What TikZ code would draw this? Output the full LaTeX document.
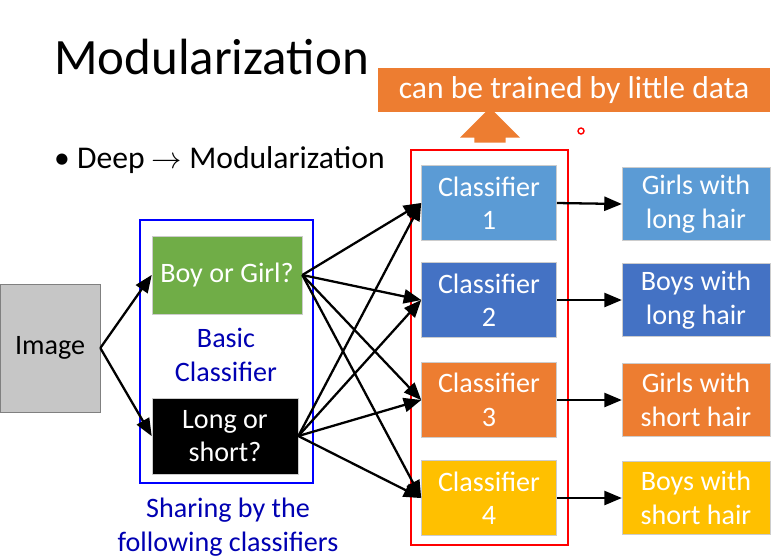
\documentclass[tikz,border=0pt]{standalone}
\usepackage{fontspec}
\setmainfont{Carlito}
\usetikzlibrary{arrows,shapes.arrows,positioning}
\definecolor{cblue}{HTML}{5B9BD5}
\definecolor{cdblue}{HTML}{4472C4}
\definecolor{corange}{HTML}{ED7D31}
\definecolor{cgold}{HTML}{FFC000}
\definecolor{cgreen}{HTML}{70AD47}
\begin{document}
\begin{tikzpicture}[x=0.02cm,y=-0.02cm,>=triangle 45,
	box/.style={draw=white!80!black,text=white,align=center,font=\fontsize{16pt}{19pt}\selectfont,minimum width=2.7cm,minimum height=1.5cm,inner sep=1pt},
	cls/.style={box,minimum width=2.7cm},
	result/.style={box,minimum width=2.96cm,minimum height=1.46cm},
	arr/.style={->,line width=1.3pt}]
	\useasboundingbox (0,0) rectangle (777,559);
	\node[anchor=west,font=\fontsize{29pt}{32pt}\selectfont] (title) at (48,57) {Modularization};
	\node[anchor=west,font=\fontsize{18pt}{20pt}\selectfont] (bullet) at (48,160) {\textbullet\ Deep $\rightarrow$ Modularization};
	\node[fill=corange,text=white,minimum width=7.84cm,minimum height=0.88cm,font=\fontsize{18pt}{20pt}\selectfont] (little) at (574,90) {can be trained by little data};
	\node[single arrow,fill=corange,rotate=90,minimum height=0.7cm,minimum width=1.2cm,single arrow head extend=2pt,inner sep=2pt] (up) at (490,133) {};
	\draw[red,thick] (581,131) circle (3);
	\draw[red,very thick] (411,150) rectangle (568,545);
	\draw[blue,very thick] (140,220) rectangle (313,483);
	% classifiers
	\node[cls,fill=cblue] (c1) at (489,203) {Classifier\\1};
	\node[cls,fill=cdblue] (c2) at (489,300) {Classifier\\2};
	\node[cls,fill=corange] (c3) at (489,400) {Classifier\\3};
	\node[cls,fill=cgold] (c4) at (489,498) {Classifier\\4};
	\node[result,fill=cblue] (o1) at (696,204) {Girls with\\long hair};
	\node[result,fill=cdblue] (o2) at (696,300) {Boys with\\long hair};
	\node[result,fill=corange] (o3) at (696,400) {Girls with\\short hair};
	\node[result,fill=cgold] (o4) at (696,498) {Boys with\\short hair};
	\node[box,draw=gray,fill=gray!45,text=black,minimum width=2cm,minimum height=2.56cm] (img) at (50,348) {Image};
	\node[box,fill=cgreen,minimum width=3cm,minimum height=1.56cm] (bg) at (227,275) {Boy or Girl?};
	\node[box,fill=black,minimum width=2.92cm,minimum height=1.52cm] (ls) at (225,436) {Long or\\short?};
	\node[text=blue!70!black,align=center,font=\fontsize{16pt}{19pt}\selectfont] (basic) at (226,355) {Basic\\Classifier};
	\node[text=blue!70!black,align=center,font=\fontsize{16pt}{19pt}\selectfont] (share) at (228,527) {Sharing by the\\following classifiers};
	\draw[arr] (img.east) -- (bg.west);
	\draw[arr] (img.east) -- (ls.west);
	\foreach \c in {c1,c2,c3,c4}{
		\draw[arr] (bg.east) -- (\c.west);
		\draw[arr] (ls.east) -- (\c.west);
	}
	\foreach \i in {1,...,4}
		\draw[arr] (c\i.east) -- (o\i.west);
\end{tikzpicture}
\end{document}
